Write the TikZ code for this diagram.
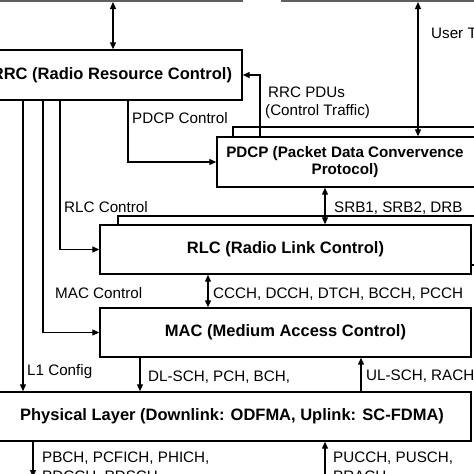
\documentclass[tikz,border=0pt]{standalone}
\usepackage{fontspec}
\setmainfont{Liberation Sans}
\usetikzlibrary{arrows.meta}
\definecolor{topgray}{RGB}{95,95,95}
\begin{document}
\begin{tikzpicture}[x=1pt,y=-1pt,
  box/.style={draw=black, line width=1.4pt, fill=white, inner sep=0pt, minimum height=49pt},
  ttl/.style={font=\fontsize{16.5}{19}\selectfont\bfseries},
  upbox/.style={draw=topgray, line width=2pt, fill=white, inner sep=0pt, minimum height=40pt},
  conn/.style={line width=1.2pt, draw=black},
  tip/.style={-{Triangle[length=7pt,width=6pt]}},
  dtip/.style={{Triangle[length=7pt,width=6pt]}-{Triangle[length=7pt,width=6pt]}},
  lbl/.style={font=\fontsize{15.2}{18}\selectfont, inner sep=0pt, anchor=base west},
]
\useasboundingbox (0,0) rectangle (474,474);
\clip (0,0) rectangle (474,474);

% boxes above (cut off)
\node[upbox, minimum width=270pt] (upL) at (107,-19) {};
\node[upbox, minimum width=300pt] (upR) at (432,-19) {};

% main boxes
\node[box, ttl, minimum width=260pt, minimum height=50pt] (rrc) at (112,75) {RRC (Radio Resource Control)};
\node[box, minimum width=267pt, minimum height=50pt] (pdcpb) at (366.5,152) {};
\node[box, minimum width=267pt, minimum height=50pt] (pdcp) at (350.5,162) {};
\node[align=center, inner sep=0pt, font=\fontsize{15.2}{17.5}\selectfont\bfseries] (pdcpt) at (345,162) {PDCP (Packet Data Convervence\\Protocol)};
\node[box, minimum width=370pt] (rlcb) at (303,240.5) {};
\node[box, ttl, minimum width=371pt] (rlc) at (285.5,249.5) {RLC (Radio Link Control)};
\node[box, ttl, minimum width=371pt] (mac) at (285.5,332.5) {MAC (Medium Access Control)};
\node[box, ttl, minimum width=478pt] (phy) at (232,416.5) {Physical Layer (Downlink: ODFMA, Uplink: SC-FDMA)};

% lane coordinates
\coordinate (xTop) at (113,0);
\coordinate (xUT) at (418,0);
\coordinate (xL1) at (23,0);
\coordinate (xMAC) at (43,0);
\coordinate (xRLC) at (60,0);
\coordinate (xPDCP) at (128,0);
\coordinate (xPDU) at (260,75);
\coordinate (xSRB) at (325,0);
\coordinate (xCCH) at (208,0);
\coordinate (xDL) at (140,0);
\coordinate (xUL) at (361,0);
\coordinate (pbEnd) at (33,477);
\coordinate (puStart) at (325,490);

% connectors
\draw[conn,dtip] (xTop |- upL.south) -- (xTop |- rrc.north);
\draw[conn,dtip] (xUT |- upR.south) -- (xUT |- pdcp.north);
\draw[conn,tip] (xL1 |- rrc.south) -- (xL1 |- phy.north);
\draw[conn,tip] (xMAC |- rrc.south) |- (mac.west);
\draw[conn,tip] (xRLC |- rrc.south) |- (rlc.west);
\draw[conn,tip] (xPDCP |- rrc.south) |- (pdcp.west);
\draw[conn,tip] (xPDU |- pdcp.north) -- (xPDU) -- (rrc.east);
\draw[conn,dtip] (xSRB |- pdcp.south) -- (xSRB |- rlc.north);
\draw[conn,dtip] (xCCH |- rlc.south) -- (xCCH |- mac.north);
\draw[conn,tip] (xDL |- mac.south) -- (xDL |- phy.north);
\draw[conn,tip] (xUL |- phy.north) -- (xUL |- mac.south);
\draw[conn,tip] (pbEnd |- phy.south) -- (pbEnd);
\draw[conn,tip] (puStart) -- (puStart |- phy.south);

% labels
\node[lbl] (lPDCPc) at (132,123) {PDCP Control};
\node[lbl] (lPDU1) at (268,97) {RRC PDUs};
\node[lbl] (lPDU2) at (265,115) {(Control Traffic)};
\node[lbl] (lUT) at (431,38) {User Traffic};
\node[lbl] (lRLCc) at (64,212) {RLC Control};
\node[lbl] (lSRB) at (334,212) {SRB1, SRB2, DRB};
\node[lbl] (lMACc) at (55,298) {MAC Control};
\node[lbl] (lCCH) at (213,298) {CCCH, DCCH, DTCH, BCCH, PCCH};
\node[lbl] (lL1) at (27,375) {L1 Config};
\node[lbl] (lDL) at (148,381) {DL-SCH, PCH, BCH,};
\node[lbl] (lUL) at (366,380) {UL-SCH, RACH};
\node[lbl] (lPB1) at (42,462) {PBCH, PCFICH, PHICH,};
\node[lbl] (lPB2) at (42,481) {PDCCH, PDSCH};
\node[lbl] (lPU1) at (333,462) {PUCCH, PUSCH,};
\node[lbl] (lPU2) at (333,481) {PRACH};
\end{tikzpicture}
\end{document}
